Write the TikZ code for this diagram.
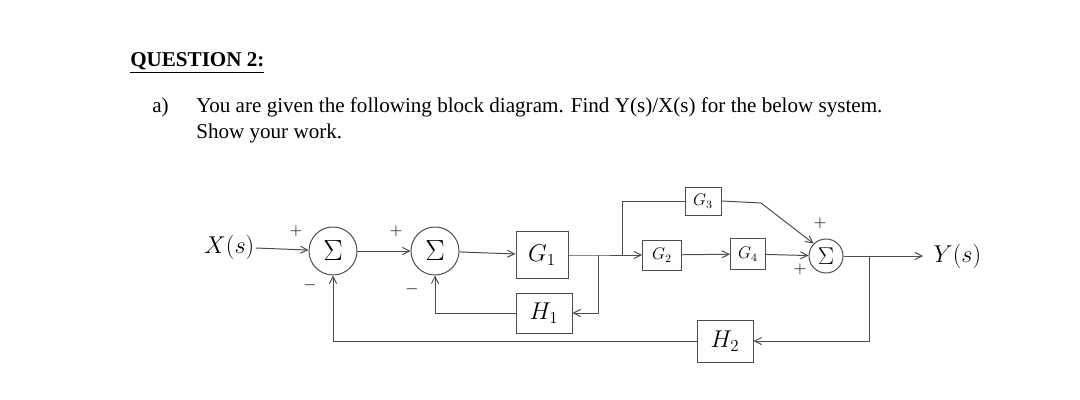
\documentclass[tikz,border=0pt]{standalone}
\usepackage{fontspec}
\setmainfont{Liberation Serif}
\usetikzlibrary{arrows.meta}
\begin{document}
\begin{tikzpicture}[x=0.025cm,y=-0.025cm,
  ln/.style={draw=black!70,line width=0.7pt},
  ar/.style={ln,-{Straight Barb[length=5pt,width=5pt]}},
  blk/.style={draw=black!70,line width=0.7pt,minimum width=#1,inner sep=0pt,font=\fontsize{17}{17}\selectfont},
  sm/.style={circle,draw=black!70,line width=0.7pt,inner sep=0pt,font=\fontsize{22}{22}\selectfont},
  sg/.style={font=\fontsize{13}{13}\selectfont,inner sep=0pt}]
\useasboundingbox (0,0) rectangle (1080,400);
\node[anchor=west,font=\fontsize{15}{15}\selectfont\bfseries,inner sep=0pt] (q) at (130,63) {\underline{QUESTION 2:}};
\node[anchor=west,font=\fontsize{15}{15}\selectfont,inner sep=0pt] (a) at (152,107) {a)};
\node[anchor=west,font=\fontsize{15}{15}\selectfont,inner sep=0pt] (t1) at (196,107) {You are given the following block diagram. Find Y(s)/X(s) for the below system.};
\node[anchor=west,font=\fontsize{15}{15}\selectfont,inner sep=0pt] (t2) at (196,133) {Show your work.};
% nodes
\node[anchor=east,inner sep=1pt,font=\fontsize{17}{17}\selectfont] (x) at (256,247) {$X(s)$};
\node[sm,minimum size=48*0.025cm] (s1) at (333,251) {$\Sigma$};
\node[sm,minimum size=48*0.025cm] (s2) at (435,251) {$\Sigma$};
\node[blk=52*0.025cm,minimum height=47*0.025cm] (g1) at (542,255) {$G_1$};
\node[blk=56*0.025cm,minimum height=40*0.025cm] (h1) at (544,313) {$H_1$};
\node[blk=36*0.025cm,minimum height=28*0.025cm,font=\fontsize{12}{12}\selectfont] (g3) at (703,201) {$G_3$};
\node[blk=39*0.025cm,minimum height=30*0.025cm,font=\fontsize{12}{12}\selectfont] (g2) at (662,255) {$G_2$};
\node[blk=35*0.025cm,minimum height=31*0.025cm,font=\fontsize{12}{12}\selectfont] (g4) at (748,254) {$G_4$};
\node[sm,minimum size=34*0.025cm,font=\fontsize{17}{17}\selectfont] (s3) at (826,256) {$\Sigma$};
\node[blk=56*0.025cm,minimum height=42*0.025cm] (h2) at (725,341) {$H_2$};
\node[anchor=west,inner sep=1pt,font=\fontsize{17}{17}\selectfont] (y) at (932,256) {$Y(s)$};
\coordinate (j1) at (598,255);
\coordinate (j2) at (622,255);
\coordinate (j3) at (869,256);
\coordinate (yo) at (923,256);
\coordinate (d3) at (761,203);
% connectors
\draw[ar] (x) -- (s1);
\draw[ar] (s1) -- (s2);
\draw[ar] (s2) -- (g1);
\draw[ln] (g1.east) -- (j1) -- (j2);
\draw[ar] (j2) -- (g2);
\draw[ar] (g2) -- (g4);
\draw[ar] (g4) -- (s3);
\draw[ln] (j2) |- (g3.west);
\draw[ln] (g3.east) -- (d3);
\draw[ar] (d3) -- (s3.135);
\draw[ln] (s3) -- (j3);
\draw[ar] (j3) -- (yo);
\draw[ar] (j1) |- (h1.east);
\draw[ar] (h1.west) -| (s2.south);
\draw[ar] (j3) |- (h2.east);
\draw[ar] (h2.west) -| (s1.south);
% signs
\node[sg] (p1) at (296,231) {$+$};
\node[sg] (m1) at (310,285) {$-$};
\node[sg] (p2) at (396,231) {$+$};
\node[sg] (m2) at (412,289) {$-$};
\node[sg] (p3) at (820,223) {$+$};
\node[sg] (p4) at (800,269) {$+$};
\end{tikzpicture}
\end{document}
